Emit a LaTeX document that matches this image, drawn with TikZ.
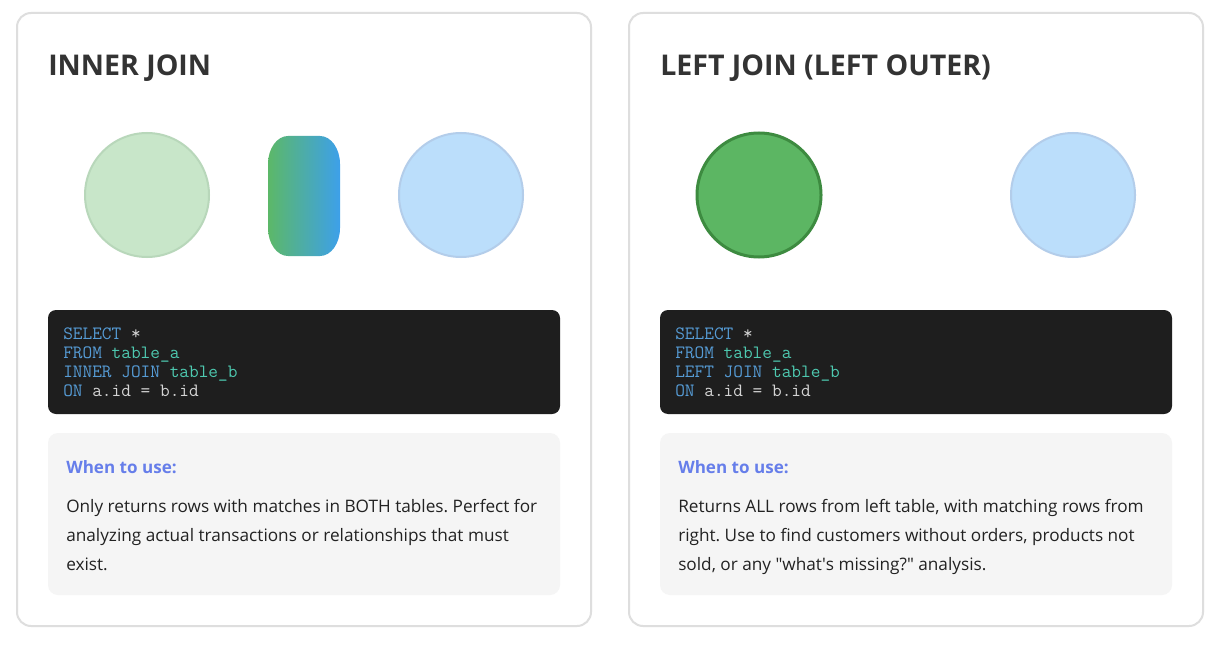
\documentclass[tikz,border=0pt]{standalone}
\usepackage{fontspec}
\setmainfont{Open Sans}
\definecolor{cardborder}{HTML}{DEDEDE}
\definecolor{titlec}{HTML}{333333}
\definecolor{codebg}{HTML}{1E1E1E}
\definecolor{kw}{HTML}{569CD6}
\definecolor{tbl}{HTML}{4EC9B0}
\definecolor{codetext}{HTML}{D4D4D4}
\definecolor{whenc}{HTML}{667EEA}
\definecolor{bodyc}{HTML}{222222}
\definecolor{infobg}{HTML}{F5F5F5}
\definecolor{lgreen}{HTML}{C8E6C9}
\definecolor{lgreenb}{HTML}{B8D7BA}
\definecolor{lblue}{HTML}{BBDEFB}
\definecolor{lblueb}{HTML}{B3CDEA}
\definecolor{dgreen}{HTML}{5CB663}
\definecolor{dgreenb}{HTML}{3D8B40}
\definecolor{gradl}{HTML}{5CB868}
\definecolor{gradr}{HTML}{3DA0EA}
\tikzset{
  card/.style={draw=cardborder, line width=1.5pt, fill=white, rounded corners=10.5pt},
  jointitle/.style={anchor=base west, font=\fontsize{21.4}{26}\selectfont\bfseries, text=titlec, inner sep=0pt},
  codebox/.style={fill=codebg, rounded corners=6pt},
  codeline/.style={anchor=base west, font=\ttfamily\fontsize{14.1}{16}\selectfont, text=codetext, inner sep=0pt},
  infobox/.style={fill=infobg, rounded corners=7.5pt},
  whenlbl/.style={anchor=base west, font=\bfseries\fontsize{12.8}{15}\selectfont, text=whenc, inner sep=0pt},
  bodyline/.style={anchor=base west, font=\fontsize{12.9}{15}\selectfont\frenchspacing, text=bodyc, inner sep=0pt},
  venn/.style={circle, minimum size=93pt, inner sep=0pt},
}
\begin{document}
\begin{tikzpicture}[x=0.75pt,y=-0.75pt]
\useasboundingbox (0,0) rectangle (1230,645);
\fill[white] (0,0) rectangle (1230,645);

% ---------- left card ----------
\draw[card] (17,13) rectangle (591,626);
\node[jointitle] (t1) at (48,76) {INNER JOIN};
\node[venn, fill=lgreen, draw=lgreenb, line width=1.5pt] (a1) at (147,195) {};
\node[venn, fill=lblue, draw=lblueb, line width=1.5pt] (b1) at (461,195) {};
\shade[left color=gradl, right color=gradr]
  (288,136) -- (320,136) .. controls (331,136) and (340,148.5) .. (340,164)
  -- (340,228) .. controls (340,243.5) and (331,256) .. (320,256)
  -- (288,256) .. controls (277,256) and (268,243.5) .. (268,228)
  -- (268,164) .. controls (268,148.5) and (277,136) .. (288,136) -- cycle;
\fill[codebox] (48,310) rectangle (560,414);
\node[codeline] (c11) at (63,339) {\textcolor{kw}{SELECT} *};
\node[codeline] (c12) at (63,358) {\textcolor{kw}{FROM} \textcolor{tbl}{table\_a}};
\node[codeline] (c13) at (63,377) {\textcolor{kw}{INNER JOIN} \textcolor{tbl}{table\_b}};
\node[codeline] (c14) at (63,396) {\textcolor{kw}{ON} a.id = b.id};
\fill[infobox] (48,433) rectangle (560,595);
\node[whenlbl] (w1) at (66,473) {When to use:};
\node[bodyline] (d11) at (66,512) {Only returns rows with matches in BOTH tables. Perfect for};
\node[bodyline] (d12) at (66,541) {analyzing actual transactions or relationships that must};
\node[bodyline] (d13) at (66,570) {exist.};

% ---------- right card ----------
\draw[card] (629,13) rectangle (1203,626);
\node[jointitle] (t2) at (660,76) {LEFT JOIN (LEFT OUTER)};
\node[venn, fill=dgreen, draw=dgreenb, line width=2.25pt] (a2) at (759,195) {};
\node[venn, fill=lblue, draw=lblueb, line width=1.5pt] (b2) at (1073,195) {};
\fill[codebox] (660,310) rectangle (1172,414);
\node[codeline] (c21) at (675,339) {\textcolor{kw}{SELECT} *};
\node[codeline] (c22) at (675,358) {\textcolor{kw}{FROM} \textcolor{tbl}{table\_a}};
\node[codeline] (c23) at (675,377) {\textcolor{kw}{LEFT JOIN} \textcolor{tbl}{table\_b}};
\node[codeline] (c24) at (675,396) {\textcolor{kw}{ON} a.id = b.id};
\fill[infobox] (660,433) rectangle (1172,595);
\node[whenlbl] (w2) at (678,473) {When to use:};
\node[bodyline] (d21) at (678,512) {Returns ALL rows from left table, with matching rows from};
\node[bodyline] (d22) at (678,541) {right. Use to find customers without orders, products not};
\node[bodyline] (d23) at (678,570) {sold, or any \textquotedbl what\textquotesingle s missing?\textquotedbl{} analysis.};
\end{tikzpicture}
\end{document}
